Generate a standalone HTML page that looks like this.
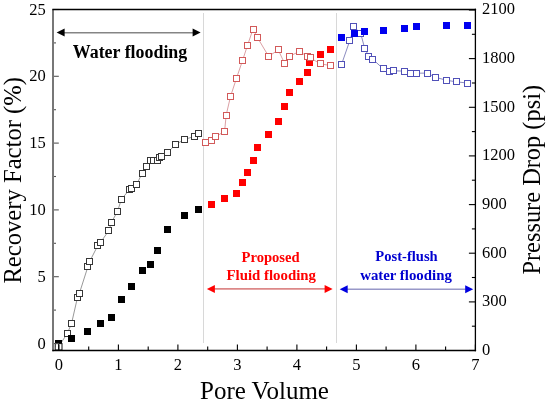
<!DOCTYPE html>
<html><head><meta charset="utf-8"><style>
html,body{margin:0;padding:0;background:#fff;}
body{width:550px;height:404px;overflow:hidden;}
svg{display:block;}
</style></head><body>
<svg width="550" height="404" viewBox="0 0 550 404">
<rect width="550" height="404" fill="#fff"/>
<g stroke="#d8d8d8" stroke-width="1">
<line x1="203.5" y1="13" x2="203.5" y2="343"/>
<line x1="336.5" y1="13" x2="336.5" y2="343"/>
</g>
<g fill="none" stroke-width="1">
<polyline points="61.0,343.0 67.3,333.4 71.5,323.6 77.5,297.4 79.5,293.0 88.0,266.3 89.9,261.0 98.0,245.2 100.6,242.3 108.9,230.5 111.5,222.4 117.6,211.0 121.4,199.4 129.3,189.7 131.6,188.5 136.6,184.7 142.1,173.3 146.4,166.3 150.3,160.5 153.0,160.5 157.4,160.6 160.0,157.5 162.0,156.6 167.6,152.6 175.7,144.4 184.5,139.4 194.5,136.4 198.5,133.1" stroke="#999"/>
<polyline points="205.4,142.3 211.8,140.4 215.6,136.8 224.6,131.2 226.2,115.0 230.5,96.5 236.5,78.2 242.5,60.6 247.5,45.4 253.0,29.1 257.5,37.7 268.6,56.3 278.3,50.0 284.8,63.9 289.1,56.4 299.0,51.7 308.0,56.4 310.3,57.9 320.5,63.9 330.5,65.5" stroke="#dca0a4"/>
<polyline points="341.5,64.5 349.8,40.6 354.0,26.6 360.8,33.8 364.7,48.4 368.8,56.2 372.8,59.2 383.0,68.7 389.4,71.5 393.4,70.8 404.2,71.1 410.7,73.6 416.7,73.2 427.2,73.1 435.2,77.2 446.1,80.2 456.7,81.9 467.3,83.0" stroke="#8c8cc0"/>
</g>
<rect x="55" y="340" width="7" height="7" fill="#000"/>
<rect x="55.2" y="343.6" width="6.8" height="6.4" fill="#fff" stroke="#111" stroke-width="1"/>
<line x1="58.6" y1="344" x2="58.6" y2="350" stroke="#222" stroke-width="1"/>
<rect x="64.5" y="330.5" width="6" height="6" fill="#fff" stroke="#363636" stroke-width="1.0"/>
<rect x="68.5" y="320.5" width="6" height="6" fill="#fff" stroke="#363636" stroke-width="1.0"/>
<rect x="74.5" y="294.5" width="6" height="6" fill="#fff" stroke="#363636" stroke-width="1.0"/>
<rect x="76.5" y="290.5" width="6" height="6" fill="#fff" stroke="#363636" stroke-width="1.0"/>
<rect x="84.5" y="263.5" width="6" height="6" fill="#fff" stroke="#363636" stroke-width="1.0"/>
<rect x="86.5" y="258.5" width="6" height="6" fill="#fff" stroke="#363636" stroke-width="1.0"/>
<rect x="94.5" y="242.5" width="6" height="6" fill="#fff" stroke="#363636" stroke-width="1.0"/>
<rect x="97.5" y="239.5" width="6" height="6" fill="#fff" stroke="#363636" stroke-width="1.0"/>
<rect x="105.5" y="227.5" width="6" height="6" fill="#fff" stroke="#363636" stroke-width="1.0"/>
<rect x="108.5" y="219.5" width="6" height="6" fill="#fff" stroke="#363636" stroke-width="1.0"/>
<rect x="114.5" y="208.5" width="6" height="6" fill="#fff" stroke="#363636" stroke-width="1.0"/>
<rect x="118.5" y="196.5" width="6" height="6" fill="#fff" stroke="#363636" stroke-width="1.0"/>
<rect x="126.5" y="186.5" width="6" height="6" fill="#fff" stroke="#363636" stroke-width="1.0"/>
<rect x="128.5" y="185.5" width="6" height="6" fill="#fff" stroke="#363636" stroke-width="1.0"/>
<rect x="133.5" y="181.5" width="6" height="6" fill="#fff" stroke="#363636" stroke-width="1.0"/>
<rect x="139.5" y="170.5" width="6" height="6" fill="#fff" stroke="#363636" stroke-width="1.0"/>
<rect x="143.5" y="163.5" width="6" height="6" fill="#fff" stroke="#363636" stroke-width="1.0"/>
<rect x="147.5" y="157.5" width="6" height="6" fill="#fff" stroke="#363636" stroke-width="1.0"/>
<rect x="150.5" y="157.5" width="6" height="6" fill="#fff" stroke="#363636" stroke-width="1.0"/>
<rect x="154.5" y="157.5" width="6" height="6" fill="#fff" stroke="#363636" stroke-width="1.0"/>
<rect x="156.5" y="154.5" width="6" height="6" fill="#fff" stroke="#363636" stroke-width="1.0"/>
<rect x="158.5" y="153.5" width="6" height="6" fill="#fff" stroke="#363636" stroke-width="1.0"/>
<rect x="164.5" y="149.5" width="6" height="6" fill="#fff" stroke="#363636" stroke-width="1.0"/>
<rect x="172.5" y="141.5" width="6" height="6" fill="#fff" stroke="#363636" stroke-width="1.0"/>
<rect x="181.5" y="136.5" width="6" height="6" fill="#fff" stroke="#363636" stroke-width="1.0"/>
<rect x="191.5" y="133.5" width="6" height="6" fill="#fff" stroke="#363636" stroke-width="1.0"/>
<rect x="195.5" y="130.5" width="6" height="6" fill="#fff" stroke="#363636" stroke-width="1.0"/>
<rect x="68" y="335" width="7" height="7" fill="#000"/>
<rect x="84" y="328" width="7" height="7" fill="#000"/>
<rect x="97" y="320" width="7" height="7" fill="#000"/>
<rect x="108" y="314" width="7" height="7" fill="#000"/>
<rect x="118" y="296" width="7" height="7" fill="#000"/>
<rect x="128" y="283" width="7" height="7" fill="#000"/>
<rect x="139" y="267" width="7" height="7" fill="#000"/>
<rect x="147" y="261" width="7" height="7" fill="#000"/>
<rect x="154" y="247" width="7" height="7" fill="#000"/>
<rect x="164" y="226" width="7" height="7" fill="#000"/>
<rect x="181" y="212" width="7" height="7" fill="#000"/>
<rect x="195" y="206" width="7" height="7" fill="#000"/>
<rect x="208" y="201" width="7" height="7" fill="#ff0000"/>
<rect x="221" y="195" width="7" height="7" fill="#ff0000"/>
<rect x="233" y="190" width="7" height="7" fill="#ff0000"/>
<rect x="239" y="179" width="7" height="7" fill="#ff0000"/>
<rect x="244" y="169" width="7" height="7" fill="#ff0000"/>
<rect x="250" y="157" width="7" height="7" fill="#ff0000"/>
<rect x="254" y="144" width="7" height="7" fill="#ff0000"/>
<rect x="265" y="131" width="7" height="7" fill="#ff0000"/>
<rect x="275" y="118" width="7" height="7" fill="#ff0000"/>
<rect x="281" y="103" width="7" height="7" fill="#ff0000"/>
<rect x="286" y="89" width="7" height="7" fill="#ff0000"/>
<rect x="296" y="78" width="7" height="7" fill="#ff0000"/>
<rect x="304" y="69" width="7" height="7" fill="#ff0000"/>
<rect x="306" y="59" width="7" height="7" fill="#ff0000"/>
<rect x="317" y="51" width="7" height="7" fill="#ff0000"/>
<rect x="327" y="46" width="7" height="7" fill="#ff0000"/>
<rect x="202.5" y="139.5" width="6" height="6" fill="#fff" stroke="#d25a5a" stroke-width="1.0"/>
<rect x="208.5" y="137.5" width="6" height="6" fill="#fff" stroke="#d25a5a" stroke-width="1.0"/>
<rect x="212.5" y="133.5" width="6" height="6" fill="#fff" stroke="#d25a5a" stroke-width="1.0"/>
<rect x="221.5" y="128.5" width="6" height="6" fill="#fff" stroke="#d25a5a" stroke-width="1.0"/>
<rect x="223.5" y="112.5" width="6" height="6" fill="#fff" stroke="#d25a5a" stroke-width="1.0"/>
<rect x="227.5" y="93.5" width="6" height="6" fill="#fff" stroke="#d25a5a" stroke-width="1.0"/>
<rect x="233.5" y="75.5" width="6" height="6" fill="#fff" stroke="#d25a5a" stroke-width="1.0"/>
<rect x="239.5" y="57.5" width="6" height="6" fill="#fff" stroke="#d25a5a" stroke-width="1.0"/>
<rect x="244.5" y="42.5" width="6" height="6" fill="#fff" stroke="#d25a5a" stroke-width="1.0"/>
<rect x="250.5" y="26.5" width="6" height="6" fill="#fff" stroke="#d25a5a" stroke-width="1.0"/>
<rect x="254.5" y="34.5" width="6" height="6" fill="#fff" stroke="#d25a5a" stroke-width="1.0"/>
<rect x="265.5" y="53.5" width="6" height="6" fill="#fff" stroke="#d25a5a" stroke-width="1.0"/>
<rect x="275.5" y="46.5" width="6" height="6" fill="#fff" stroke="#d25a5a" stroke-width="1.0"/>
<rect x="281.5" y="60.5" width="6" height="6" fill="#fff" stroke="#d25a5a" stroke-width="1.0"/>
<rect x="286.5" y="53.5" width="6" height="6" fill="#fff" stroke="#d25a5a" stroke-width="1.0"/>
<rect x="296.5" y="48.5" width="6" height="6" fill="#fff" stroke="#d25a5a" stroke-width="1.0"/>
<rect x="304.5" y="53.5" width="6" height="6" fill="#fff" stroke="#d25a5a" stroke-width="1.0"/>
<rect x="307.5" y="54.5" width="6" height="6" fill="#fff" stroke="#d25a5a" stroke-width="1.0"/>
<rect x="317.5" y="60.5" width="6" height="6" fill="#fff" stroke="#d25a5a" stroke-width="1.0"/>
<rect x="327.5" y="62.5" width="6" height="6" fill="#fff" stroke="#d25a5a" stroke-width="1.0"/>
<rect x="338.5" y="61.5" width="6" height="6" fill="#fff" stroke="#5050b8" stroke-width="1.0"/>
<rect x="346.5" y="37.5" width="6" height="6" fill="#fff" stroke="#5050b8" stroke-width="1.0"/>
<rect x="350.5" y="23.5" width="6" height="6" fill="#fff" stroke="#5050b8" stroke-width="1.0"/>
<rect x="357.5" y="30.5" width="6" height="6" fill="#fff" stroke="#5050b8" stroke-width="1.0"/>
<rect x="361.5" y="45.5" width="6" height="6" fill="#fff" stroke="#5050b8" stroke-width="1.0"/>
<rect x="365.5" y="53.5" width="6" height="6" fill="#fff" stroke="#5050b8" stroke-width="1.0"/>
<rect x="369.5" y="56.5" width="6" height="6" fill="#fff" stroke="#5050b8" stroke-width="1.0"/>
<rect x="380.5" y="65.5" width="6" height="6" fill="#fff" stroke="#5050b8" stroke-width="1.0"/>
<rect x="386.5" y="68.5" width="6" height="6" fill="#fff" stroke="#5050b8" stroke-width="1.0"/>
<rect x="390.5" y="67.5" width="6" height="6" fill="#fff" stroke="#5050b8" stroke-width="1.0"/>
<rect x="401.5" y="68.5" width="6" height="6" fill="#fff" stroke="#5050b8" stroke-width="1.0"/>
<rect x="407.5" y="70.5" width="6" height="6" fill="#fff" stroke="#5050b8" stroke-width="1.0"/>
<rect x="413.5" y="70.5" width="6" height="6" fill="#fff" stroke="#5050b8" stroke-width="1.0"/>
<rect x="424.5" y="70.5" width="6" height="6" fill="#fff" stroke="#5050b8" stroke-width="1.0"/>
<rect x="432.5" y="74.5" width="6" height="6" fill="#fff" stroke="#5050b8" stroke-width="1.0"/>
<rect x="443.5" y="77.5" width="6" height="6" fill="#fff" stroke="#5050b8" stroke-width="1.0"/>
<rect x="453.5" y="78.5" width="6" height="6" fill="#fff" stroke="#5050b8" stroke-width="1.0"/>
<rect x="464.5" y="80.5" width="6" height="6" fill="#fff" stroke="#5050b8" stroke-width="1.0"/>
<rect x="338" y="34" width="7" height="7" fill="#0000f0"/>
<rect x="351" y="30" width="7" height="7" fill="#0000f0"/>
<rect x="361" y="28" width="7" height="7" fill="#0000f0"/>
<rect x="380" y="27" width="7" height="7" fill="#0000f0"/>
<rect x="401" y="25" width="7" height="7" fill="#0000f0"/>
<rect x="413" y="23" width="7" height="7" fill="#0000f0"/>
<rect x="443" y="22" width="7" height="7" fill="#0000f0"/>
<rect x="464" y="22" width="7" height="7" fill="#0000f0"/>
<line x1="62.6" y1="32.7" x2="194.6" y2="32.7" stroke="#858585" stroke-width="1.6"/><polygon points="56.6,32.6 64.6,28.6 64.6,36.6" fill="#000"/><polygon points="200.6,32.6 192.6,28.6 192.6,36.6" fill="#000"/>
<line x1="212.9" y1="288.9" x2="326.6" y2="288.9" stroke="#dc8888" stroke-width="1.6"/><polygon points="206.9,288.9 214.9,284.9 214.9,292.9" fill="#ff0000"/><polygon points="332.6,288.9 324.6,284.9 324.6,292.9" fill="#ff0000"/>
<line x1="345.7" y1="289.2" x2="467.2" y2="289.2" stroke="#9898c8" stroke-width="1.6"/><polygon points="339.7,289.2 347.7,285.2 347.7,293.2" fill="#0000e0"/><polygon points="473.2,289.2 465.2,285.2 465.2,293.2" fill="#0000e0"/>
<g stroke="#000" stroke-width="1.1">
<line x1="58.9" y1="350" x2="58.9" y2="344.5"/>
<line x1="88.7" y1="350" x2="88.7" y2="346.5"/>
<line x1="118.4" y1="350" x2="118.4" y2="344.5"/>
<line x1="148.2" y1="350" x2="148.2" y2="346.5"/>
<line x1="177.9" y1="350" x2="177.9" y2="344.5"/>
<line x1="207.7" y1="350" x2="207.7" y2="346.5"/>
<line x1="237.4" y1="350" x2="237.4" y2="344.5"/>
<line x1="267.1" y1="350" x2="267.1" y2="346.5"/>
<line x1="296.9" y1="350" x2="296.9" y2="344.5"/>
<line x1="326.6" y1="350" x2="326.6" y2="346.5"/>
<line x1="356.4" y1="350" x2="356.4" y2="344.5"/>
<line x1="386.1" y1="350" x2="386.1" y2="346.5"/>
<line x1="415.9" y1="350" x2="415.9" y2="344.5"/>
<line x1="445.6" y1="350" x2="445.6" y2="346.5"/>
<line x1="475.4" y1="350" x2="475.4" y2="344.5"/>
<line x1="53" y1="343.5" x2="58.8" y2="343.5" stroke="#555"/>
<line x1="53" y1="310.1" x2="56.0" y2="310.1" stroke="#555"/>
<line x1="53" y1="276.7" x2="58.8" y2="276.7" stroke="#555"/>
<line x1="53" y1="243.3" x2="56.0" y2="243.3" stroke="#555"/>
<line x1="53" y1="209.9" x2="58.8" y2="209.9" stroke="#555"/>
<line x1="53" y1="176.5" x2="56.0" y2="176.5" stroke="#555"/>
<line x1="53" y1="143.1" x2="58.8" y2="143.1" stroke="#555"/>
<line x1="53" y1="109.7" x2="56.0" y2="109.7" stroke="#555"/>
<line x1="53" y1="76.3" x2="58.8" y2="76.3" stroke="#555"/>
<line x1="53" y1="42.9" x2="56.0" y2="42.9" stroke="#555"/>
<line x1="53" y1="9.5" x2="58.8" y2="9.5" stroke="#555"/>
<line x1="475.4" y1="350.5" x2="468.9" y2="350.5"/>
<line x1="475.4" y1="326.2" x2="471.9" y2="326.2"/>
<line x1="475.4" y1="301.9" x2="468.9" y2="301.9"/>
<line x1="475.4" y1="277.5" x2="471.9" y2="277.5"/>
<line x1="475.4" y1="253.2" x2="468.9" y2="253.2"/>
<line x1="475.4" y1="228.9" x2="471.9" y2="228.9"/>
<line x1="475.4" y1="204.6" x2="468.9" y2="204.6"/>
<line x1="475.4" y1="180.2" x2="471.9" y2="180.2"/>
<line x1="475.4" y1="155.9" x2="468.9" y2="155.9"/>
<line x1="475.4" y1="131.6" x2="471.9" y2="131.6"/>
<line x1="475.4" y1="107.3" x2="468.9" y2="107.3"/>
<line x1="475.4" y1="83.0" x2="471.9" y2="83.0"/>
<line x1="475.4" y1="58.6" x2="468.9" y2="58.6"/>
<line x1="475.4" y1="34.3" x2="471.9" y2="34.3"/>
<line x1="475.4" y1="10.0" x2="468.9" y2="10.0"/>
</g>
<line x1="53" y1="9.5" x2="53" y2="351.2" stroke="#777" stroke-width="2"/>
<line x1="52.3" y1="9.5" x2="476.1" y2="9.5" stroke="#000" stroke-width="1.5"/>
<line x1="52.3" y1="350.5" x2="476.1" y2="350.5" stroke="#000" stroke-width="1.5"/>
<line x1="475.4" y1="8.8" x2="475.4" y2="351.2" stroke="#000" stroke-width="1.3"/>
<g font-family="Liberation Serif, serif" font-size="16.5" fill="#000">
<text x="58.9" y="369.8" text-anchor="middle">0</text>
<text x="118.4" y="369.8" text-anchor="middle">1</text>
<text x="177.9" y="369.8" text-anchor="middle">2</text>
<text x="237.4" y="369.8" text-anchor="middle">3</text>
<text x="296.9" y="369.8" text-anchor="middle">4</text>
<text x="356.4" y="369.8" text-anchor="middle">5</text>
<text x="415.9" y="369.8" text-anchor="middle">6</text>
<text x="475.4" y="369.8" text-anchor="middle">7</text>
<text x="45.8" y="348.5" text-anchor="end">0</text>
<text x="45.8" y="281.7" text-anchor="end">5</text>
<text x="45.8" y="214.9" text-anchor="end">10</text>
<text x="45.8" y="148.1" text-anchor="end">15</text>
<text x="45.8" y="81.3" text-anchor="end">20</text>
<text x="45.8" y="14.5" text-anchor="end">25</text>
<text x="482" y="354.8">0</text>
<text x="482" y="306.2">300</text>
<text x="482" y="257.5">600</text>
<text x="482" y="208.9">900</text>
<text x="482" y="160.2">1200</text>
<text x="482" y="111.6">1500</text>
<text x="482" y="62.9">1800</text>
<text x="482" y="14.3">2100</text>
</g>
<g font-family="Liberation Serif, serif" font-size="24.4" fill="#000">
<text x="200" y="399" font-size="25">Pore Volume</text>
<text transform="translate(21.3,283.6) rotate(-90)" font-size="24.65">Recovery Factor (%)</text>
<text transform="translate(539.7,274.6) rotate(-90)">Pressure Drop (psi)</text>
</g>
<g font-family="Liberation Serif, serif" font-weight="bold">
<text x="72.8" y="58" font-size="17.9" fill="#000">Water flooding</text>
<text x="270.6" y="261.6" font-size="14.6" fill="#ff0000" text-anchor="middle">Proposed</text>
<text x="271.2" y="280.2" font-size="14.85" fill="#ff0000" text-anchor="middle">Fluid flooding</text>
<text x="406.5" y="261.3" font-size="14.6" fill="#0000d0" text-anchor="middle">Post-flush</text>
<text x="406" y="279.8" font-size="14.85" fill="#0000d0" text-anchor="middle">water flooding</text>
</g>
</svg>
</body></html>
